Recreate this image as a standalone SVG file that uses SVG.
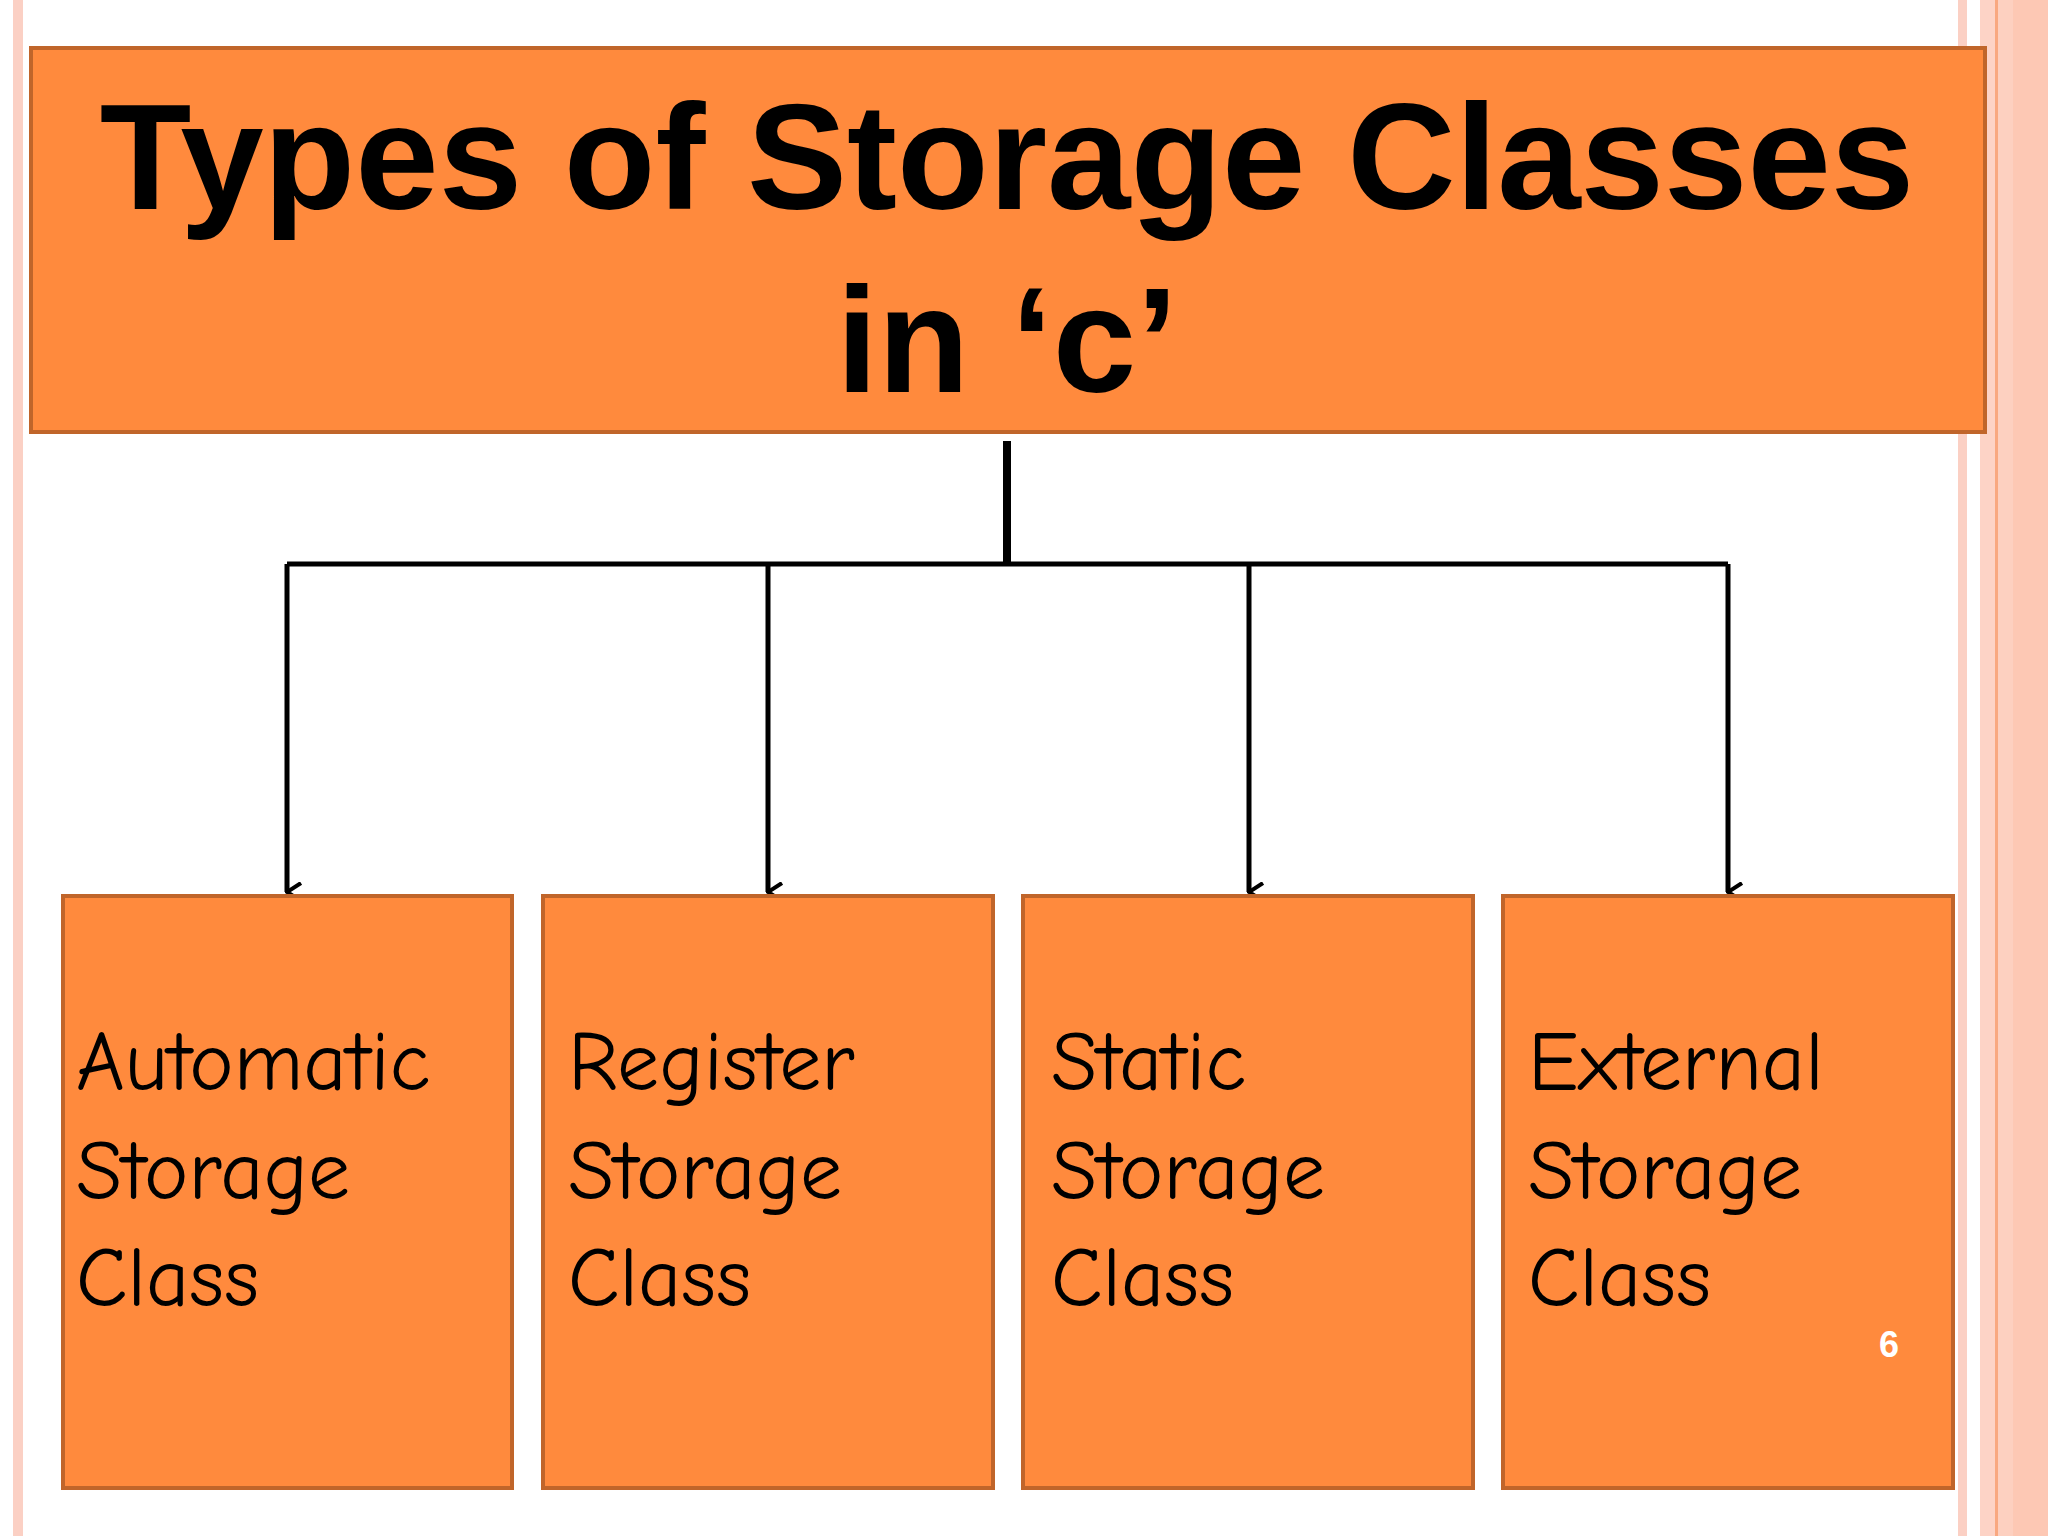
<svg xmlns="http://www.w3.org/2000/svg" width="2048" height="1536" viewBox="0 0 2048 1536">
<style>
.box{fill:#FF8A3D;stroke:#C0652A;stroke-width:4}
.t{font-family:"Liberation Sans",Arial,sans-serif;font-weight:bold;font-size:150px;fill:#000;text-anchor:middle}
.b{font-family:"Comic Neue","DejaVu Sans",sans-serif;font-size:84px;fill:#000}
.c{fill:none;stroke:#000;stroke-width:5}
</style>
<defs><marker id="a" viewBox="0 0 20 20" refX="10" refY="18" markerWidth="20" markerHeight="20" markerUnits="userSpaceOnUse" orient="auto-start-reverse"><path d="M1,4 L10,18 L19,4" fill="none" stroke="#000" stroke-width="4"/></marker></defs>
<rect width="2048" height="1536" fill="#fff"/>
<rect x="13" y="0" width="10" height="1536" fill="#FBD0C4"/>
<rect x="1958" y="0" width="9" height="1536" fill="#FBD0C4"/>
<rect x="1980" y="0" width="15" height="1536" fill="#FDD3C6"/>
<rect x="1995" y="0" width="3" height="1536" fill="#F9A880"/>
<rect x="1998" y="0" width="15" height="1536" fill="#FDD0C0"/>
<rect x="2013" y="0" width="35" height="1536" fill="#FDC8B4"/>
<g id="title"><rect class="box" x="31" y="48" width="1954" height="384"/>
<text class="t" x="1007" y="209">Types of Storage Classes</text>
<text class="t" x="1007" y="392">in ‘c’</text></g>
<g id="connectors" class="c">
<path d="M1007,441 V564" stroke-width="8"/>
<path d="M287,564 H1728"/>
<path d="M287,564 V892" marker-end="url(#a)"/>
<path d="M768,564 V892" marker-end="url(#a)"/>
<path d="M1249,564 V892" marker-end="url(#a)"/>
<path d="M1728,564 V892" marker-end="url(#a)"/>
</g>
<g id="auto"><rect class="box" x="63" y="896" width="449" height="592"/>
<text class="b" x="76" y="1090">Automatic</text><text class="b" x="76" y="1199">Storage</text><text class="b" x="76" y="1306">Class</text></g>
<g id="register"><rect class="box" x="543" y="896" width="450" height="592"/>
<text class="b" x="568" y="1090">Register</text><text class="b" x="568" y="1199">Storage</text><text class="b" x="568" y="1306">Class</text></g>
<g id="static"><rect class="box" x="1023" y="896" width="450" height="592"/>
<text class="b" x="1051" y="1090">Static</text><text class="b" x="1051" y="1199">Storage</text><text class="b" x="1051" y="1306">Class</text></g>
<g id="external"><rect class="box" x="1503" y="896" width="450" height="592"/>
<text class="b" x="1528" y="1090">External</text><text class="b" x="1528" y="1199">Storage</text><text class="b" x="1528" y="1306">Class</text>
<text x="1889" y="1357" font-family="Liberation Sans,sans-serif" font-weight="bold" font-size="36" fill="#fff" text-anchor="middle">6</text></g>
</svg>
